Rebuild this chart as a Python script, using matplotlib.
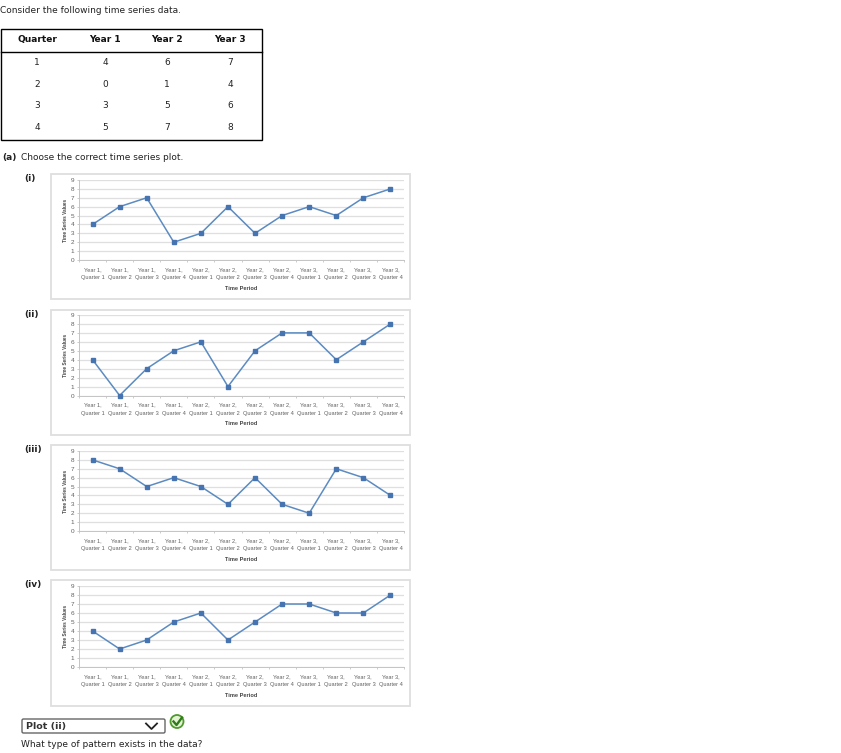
import matplotlib
matplotlib.use('Agg')
from matplotlib import pyplot as plt
from matplotlib.patches import Rectangle, FancyBboxPatch, Circle
import numpy as np

W, H = 841, 753

# table from the question
table_header = ['Quarter', 'Year 1', 'Year 2', 'Year 3']
quarter_col = ['1', '2', '3', '4']
year1_col = ['4', '0', '3', '5']
year2_col = ['6', '1', '5', '7']
year3_col = ['7', '4', '6', '8']

# the four candidate plots
period_labels = ['Year 1,\nQuarter 1', 'Year 1,\nQuarter 2', 'Year 1,\nQuarter 3', 'Year 1,\nQuarter 4',
                 'Year 2,\nQuarter 1', 'Year 2,\nQuarter 2', 'Year 2,\nQuarter 3', 'Year 2,\nQuarter 4',
                 'Year 3,\nQuarter 1', 'Year 3,\nQuarter 2', 'Year 3,\nQuarter 3', 'Year 3,\nQuarter 4']
plot_i = [4, 6, 7, 2, 3, 6, 3, 5, 6, 5, 7, 8]
plot_ii = [4, 0, 3, 5, 6, 1, 5, 7, 7, 4, 6, 8]
plot_iii = [8, 7, 5, 6, 5, 3, 6, 3, 2, 7, 6, 4]
plot_iv = [4, 2, 3, 5, 6, 3, 5, 7, 7, 6, 6, 8]
plot_names = ['(i)', '(ii)', '(iii)', '(iv)']

plt.rcParams['font.family'] = ['DejaVu Sans']
TEXT = '#222222'
LINE = '#5b8bc2'
CHART_FONT = ['Liberation Sans', 'DejaVu Sans']

fig = plt.figure(figsize=(W / 100, H / 100), dpi=100)

# page layer in pixel coordinates
page = fig.add_axes([0, 0, 1, 1])
page.set_xlim(0, W)
page.set_ylim(H, 0)
page.axis('off')


def page_text(x, y, s, size=6.5, weight='normal', ha='left', color=TEXT):
    page.text(x, y, s, fontsize=size, fontweight=weight, ha=ha, va='center', color=color)


page_text(0, 10.5, 'Consider the following time series data.')

# data table
page.add_patch(Rectangle((0.5, 28.5), 262, 111, fill=False, ec='black', lw=1))
page.plot([0.5, 262.5], [51.5, 51.5], color='black', lw=1)
col_x = [37, 105, 167, 230]
for x, head in zip(col_x, table_header):
    page_text(x, 39.5, head, weight='bold', ha='center', color='#111111')
row_y = [62, 84, 105, 127]
for i, y in enumerate(row_y):
    for x, col in zip(col_x, [quarter_col, year1_col, year2_col, year3_col]):
        page_text(x, y, col[i], ha='center')

page_text(2, 157.5, '(a)', weight='bold')
page_text(21, 157.5, 'Choose the correct time series plot.')

# chart frames, (top, bottom) of outer box and of the plot area
frames = [(173, 299, 180, 260), (309, 435, 315, 395.5), (444, 570, 451, 531), (579, 706, 586, 667)]
all_plots = [plot_i, plot_ii, plot_iii, plot_iv]

for name, vals, (top, bottom, ptop, pbot) in zip(plot_names, all_plots, frames):
    page_text(24, top + 5.5, name, weight='bold', ha='left')
    page.add_patch(Rectangle((51.5, top + 0.5), 359, bottom - top - 1, fc='white', ec='#dedede', lw=1.3))

    ax = fig.add_axes([79 / W, 1 - pbot / H, (404 - 79) / W, (pbot - ptop) / H])
    ax.patch.set_alpha(0)
    x = np.arange(len(vals))
    ax.plot(x, vals, color=LINE, lw=1.1, marker='s', ms=3.4, mfc='#4674b0', mec='#4674b0', zorder=3, clip_on=False)
    ax.set_xlim(-0.5, 11.5)
    ax.set_ylim(0, 9)
    ax.set_yticks(np.arange(0, 10))
    ax.set_xticks(x)
    ax.set_xticklabels(period_labels, linespacing=1.75, family=CHART_FONT)
    ax.set_xticks(np.arange(-0.5, 12, 1), minor=True)
    ax.grid(axis='y', color='#dfdfdf', lw=0.9)
    ax.set_axisbelow(True)
    ax.tick_params(axis='x', which='major', length=0, labelsize=4.1, labelcolor='#606060', pad=5.2)
    ax.tick_params(axis='x', which='minor', length=1.5, color='#c4c4c4', width=0.6)
    ax.tick_params(axis='y', length=1.5, color='#c4c4c4', width=0.6, labelsize=4.6, labelcolor='#606060', pad=2)
    for label in ax.get_yticklabels():
        label.set_family(CHART_FONT)
    for side in ['top', 'right']:
        ax.spines[side].set_visible(False)
    for side in ['left', 'bottom']:
        ax.spines[side].set_color('#c4c4c4')
        ax.spines[side].set_linewidth(0.7)
    ax.set_xlabel('Time Period', fontsize=4.1, fontweight='bold', color='#444444', labelpad=4, family=CHART_FONT)
    ax.set_ylabel('Time Series Values', fontsize=3.4, fontweight='bold', color='#444444', labelpad=2, family=CHART_FONT)

# answer dropdown
page.add_patch(FancyBboxPatch((22, 719), 143, 14, boxstyle='round,pad=0,rounding_size=1.5',
                              fc='white', ec='#666666', lw=1))
page_text(26.5, 726, 'Plot (ii)', weight='bold', size=6.8, color='#333333')
page.plot([146, 151.5, 157], [723.5, 729, 723.5], color='#222222', lw=1.3)

# green check
page.add_patch(Circle((177, 721.5), 6.5, fc='#e4f3d4', ec='#4f9a2c', lw=1.3))
page.plot([173.5, 176.5, 182], [721.5, 725, 717.5], color='#2f7d18', lw=1.7)

page_text(21, 744.5, 'What type of pattern exists in the data?')

fig.savefig('out.png', dpi=100)
